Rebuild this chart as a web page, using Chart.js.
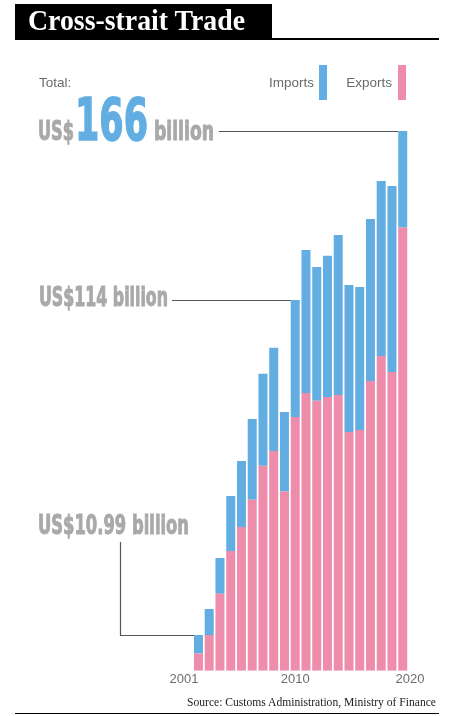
<!DOCTYPE html>
<html lang="en">
<head>
<meta charset="UTF-8">
<title>Cross-strait Trade</title>
<script src="https://cdn.jsdelivr.net/npm/chart.js"></script>
<style>
  body {
    margin: 0;
    width: 457px;
    height: 716px;
    position: relative;
    overflow: hidden;
    background: #fff;
    font-family: Arial, 'Liberation Sans', sans-serif;
  }
  #wrap { position: absolute; left: 0; top: 0; width: 457px; height: 716px; }
  .abs { position: absolute; white-space: nowrap; line-height: 1; }
  .title-box { position: absolute; left: 15px; top: 4px; width: 257px; height: 35px; background: #000; }
  .title { font-family: 'Liberation Serif', 'Times New Roman', serif; font-weight: bold; font-size: 30px; color: #fff; transform-origin: left top; }
  .rule-top { position: absolute; left: 15px; top: 38px; width: 424px; height: 1.5px; background: #000; }
  .rule-bottom { position: absolute; left: 15px; top: 712.5px; width: 424px; height: 1.5px; background: #000; }
  .small { font-size: 13.5px; color: #6a6a6a; }
  .big { font-family: 'Liberation Sans Narrow', 'Arial Narrow', 'DejaVu Sans Condensed', sans-serif; font-weight: bold; color: #a9a9a9; transform-origin: left top; -webkit-text-stroke: 1px #a9a9a9; }
  .swatch { position: absolute; top: 65px; width: 8px; height: 35px; }
  .source { font-family: 'Liberation Serif', 'Times New Roman', serif; font-size: 11.6px; color: #222; transform-origin: left top; }
</style>
</head>
<body>
<div id="wrap"><canvas id="tradeChart"></canvas></div>

<div class="title-box"></div>
<div class="abs title" id="title" style="left:28px; top:5px;" data-w="217">Cross-strait Trade</div>
<div class="rule-top"></div>

<div class="abs small" style="left:39px; top:75.6px;">Total:</div>
<div class="abs small" style="right:143px; top:75.6px;">Imports</div>
<div class="swatch" id="swImports" style="left:319px;"></div>
<div class="abs small" style="right:65px; top:75.6px;">Exports</div>
<div class="swatch" id="swExports" style="left:398px; width:7.5px;"></div>

<div class="abs big" style="left:38px; top:117.6px; font-size:26.5px;" data-w="36">US$</div>
<div class="abs big" id="bigTotal" style="left:75px; top:90.1px; font-size:59px;" data-w="73">166</div>
<div class="abs big" style="left:154px; top:117.1px; font-size:27px;" data-w="60">billion</div>

<div class="abs big" style="left:39px; top:283.1px; font-size:27px;" data-w="129">US$114 billion</div>
<div class="abs big" style="left:38px; top:511.4px; font-size:27px;" data-w="151">US$10.99 billion</div>

<div class="abs source" style="left:187px; top:697px;" data-w="249">Source: Customs Administration, Ministry of Finance</div>
<div class="rule-bottom"></div>

<script>
// Cross-strait trade, US$ billion
const years = ['2001', '2002', '2003', '2004', '2005', '2006', '2007', '2008', '2009', '2010',
               '2011', '2012', '2013', '2014', '2015', '2016', '2017', '2018', '2019', '2020'];
const exportsBn = [5.3, 11.0, 23.7, 36.8, 44.2, 52.6, 63.0, 67.6, 55.1, 78.0,
                   85.4, 83.0, 84.2, 84.8, 73.4, 74.0, 89.1, 96.8, 91.9, 136.3];
const importsBn = [5.69, 8.0, 11.0, 16.9, 20.3, 24.8, 28.3, 31.7, 24.5, 36.0,
                   44.0, 41.2, 43.4, 49.2, 45.2, 44.0, 49.8, 53.8, 57.2, 29.7];
const tickYears = ['2001', '2010', '2020'];
const calloutYears = ['2001', '2010', '2020'];

const BLUE = '#62aee2';
const PINK = '#ee8cac';

const totals = exportsBn.map((v, i) => +(v + importsBn[i]).toFixed(2));

document.getElementById('swImports').style.background = BLUE;
const big = document.getElementById('bigTotal');
big.style.color = BLUE;
big.style.webkitTextStroke = '1.5px ' + BLUE;
document.getElementById('swExports').style.background = PINK;

// squeeze text to the widths measured on the reference
document.querySelectorAll('[data-w]').forEach(el => {
  const w = el.getBoundingClientRect().width;
  el.style.transform = 'scaleX(' + (parseFloat(el.dataset.w) / w) + ')';
});

// the end labels sit a little outside their bars in the original
const tickPad = { '2001': '2001        ', '2010': '2010', '2020': '    2020' };

// leader lines from the labels to the bar tops
const calloutLines = {
  '2001': { fromX: 120, fromY: 542 },
  '2010': { fromX: 172 },
  '2020': { fromX: 219 }
};

const connectors = {
  id: 'connectors',
  afterDatasetsDraw(chart) {
    const ctx = chart.ctx;
    const meta = chart.getDatasetMeta(1);
    const yScale = chart.scales.y;
    ctx.save();
    ctx.strokeStyle = '#555';
    ctx.lineWidth = 1.2;
    calloutYears.forEach(yr => {
      const i = years.indexOf(yr);
      const bar = meta.data[i];
      const x = bar.x - bar.width / 2;
      const y = Math.round(yScale.getPixelForValue(totals[i])) + 0.5;
      const c = calloutLines[yr];
      ctx.beginPath();
      if (c.fromY !== undefined) {
        ctx.moveTo(c.fromX + 0.5, c.fromY);
        ctx.lineTo(c.fromX + 0.5, y);
      } else {
        ctx.moveTo(c.fromX, y);
      }
      ctx.lineTo(x, y);
      ctx.stroke();
    });
    ctx.restore();
  }
};

new Chart(document.getElementById('tradeChart'), {
  type: 'bar',
  data: {
    labels: years,
    datasets: [
      { label: 'Exports', data: exportsBn, backgroundColor: PINK },
      { label: 'Imports', data: importsBn, backgroundColor: BLUE }
    ]
  },
  options: {
    responsive: true,
    maintainAspectRatio: false,
    animation: false,
    events: [],
    layout: { padding: { left: 193.1, right: 48.9, top: 131, bottom: 27.7 } },
    datasets: { bar: { categoryPercentage: 1, barPercentage: 0.837 } },
    plugins: { legend: { display: false }, tooltip: { enabled: false } },
    scales: {
      x: {
        stacked: true,
        grid: { display: false, drawTicks: false },
        border: { display: false },
        ticks: {
          autoSkip: false,
          maxRotation: 0,
          padding: 1,
          color: '#6e6e6e',
          font: { family: 'Arial, Liberation Sans, sans-serif', size: 13 },
          callback: function (value) {
            const lab = this.getLabelForValue(value);
            return tickYears.includes(lab) ? tickPad[lab] : '';
          }
        }
      },
      y: {
        stacked: true,
        display: false,
        min: 0,
        max: 166
      }
    }
  },
  plugins: [connectors]
});
</script>
</body>
</html>
